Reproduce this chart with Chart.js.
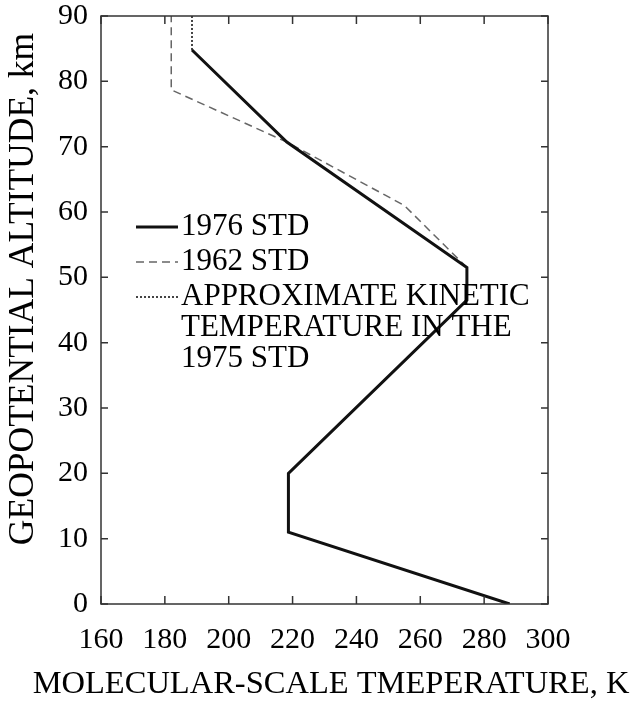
<!DOCTYPE html>
<html>
<head>
  <meta charset="utf-8">
  <title>Standard atmosphere temperature profiles</title>
  <script src="https://cdn.jsdelivr.net/npm/chart.js@4.4.0/dist/chart.umd.min.js"></script>
  <style>
    html, body { margin: 0; padding: 0; background: #fff; }
    #wrap { width: 644px; height: 704px; }
  </style>
</head>
<body>
<div id="wrap"><canvas id="chartCanvas"></canvas></div>
<script>
// values: temperature (K) against geopotential altitude (km)
const std1976Temp = [288, 218.7, 218.7, 274.6, 274.6, 218.2, 188.5];
const std1976Alt  = [0, 11, 20, 46.5, 51.5, 70.7, 84.8];
const std1962Temp = [274.6, 255, 218.2, 182, 182];
const std1962Alt  = [51.5, 61, 70.7, 78.7, 90];
const kineticTemp = [188.5, 188.5];
const kineticAlt  = [84.8, 90];

const seriesLabels = [
  ['1976 STD'],
  ['1962 STD'],
  ['APPROXIMATE KINETIC', 'TEMPERATURE IN THE', '1975 STD']
];
const xTicks = [160, 180, 200, 220, 240, 260, 280, 300];
const yTicks = [0, 10, 20, 30, 40, 50, 60, 70, 80, 90];
const xTitle = 'MOLECULAR-SCALE TMEPERATURE, K';
const yTitle = 'GEOPOTENTIAL ALTITUDE, km';

const serif = "'Liberation Serif', 'DejaVu Serif', serif";

function toPoints(xs, ys) {
  return xs.map((x, i) => ({ x: x, y: ys[i] }));
}

// frame, inward tick marks, axis titles and the in-plot legend
const framePlugin = {
  id: 'frame',
  afterDraw(chart) {
    const ctx = chart.ctx;
    const a = chart.chartArea;
    const xs = chart.scales.x, ys = chart.scales.y;
    ctx.save();
    ctx.strokeStyle = '#333';
    ctx.lineWidth = 1.5;
    ctx.strokeRect(a.left, a.top, a.right - a.left, a.bottom - a.top);
    ctx.beginPath();
    xTicks.forEach(v => {
      const px = xs.getPixelForValue(v);
      ctx.moveTo(px, a.bottom); ctx.lineTo(px, a.bottom - 8);
      ctx.moveTo(px, a.top);    ctx.lineTo(px, a.top + 8);
    });
    yTicks.forEach(v => {
      const py = ys.getPixelForValue(v);
      ctx.moveTo(a.left, py);  ctx.lineTo(a.left + 7, py);
      ctx.moveTo(a.right, py); ctx.lineTo(a.right - 7, py);
    });
    ctx.stroke();

    ctx.fillStyle = '#000';
    ctx.textAlign = 'center';
    ctx.textBaseline = 'middle';
    // x axis title
    ctx.font = '32.5px ' + serif;
    ctx.fillText(xTitle, 331, 684);
    // y axis title
    ctx.font = '35.5px ' + serif;
    ctx.translate(24, 289);
    ctx.rotate(-Math.PI / 2);
    ctx.fillText(yTitle, 0, 0);
    ctx.restore();

    // legend
    ctx.save();
    ctx.font = '31px ' + serif;
    ctx.fillStyle = '#000';
    ctx.textAlign = 'left';
    ctx.textBaseline = 'middle';
    let y = 227;
    chart.data.datasets.forEach(ds => {
      ctx.beginPath();
      ctx.strokeStyle = ds.borderColor;
      ctx.lineWidth = ds.borderWidth;
      ctx.setLineDash(ds.borderDash || []);
      ctx.moveTo(136, y); ctx.lineTo(178, y);
      ctx.stroke();
      ctx.setLineDash([]);
      ds.label.forEach((line, i) => ctx.fillText(line, 181, y + i * 31));
      y += 35;
    });
    ctx.restore();
  }
};

const chart = new Chart(document.getElementById('chartCanvas'), {
  type: 'scatter',
  data: {
    datasets: [
      { label: seriesLabels[0], data: toPoints(std1976Temp, std1976Alt),
        showLine: true, borderColor: '#111', borderWidth: 3, pointRadius: 0 },
      { label: seriesLabels[1], data: toPoints(std1962Temp, std1962Alt),
        showLine: true, borderColor: '#666', borderWidth: 1.5, borderDash: [8, 5], pointRadius: 0 },
      { label: seriesLabels[2], data: toPoints(kineticTemp, kineticAlt),
        showLine: true, borderColor: '#444', borderWidth: 2, borderDash: [2, 2], pointRadius: 0 }
    ]
  },
  options: {
    responsive: true,
    maintainAspectRatio: false,
    animation: false,
    layout: { padding: { top: 16, right: 96, left: 0, bottom: 0 } },
    plugins: {
      legend: { display: false },
      tooltip: { enabled: false }
    },
    scales: {
      x: {
        type: 'linear', min: 160, max: 300,
        afterBuildTicks: s => { s.ticks = xTicks.map(v => ({ value: v })); },
        afterFit: s => { s.height = 100; s.paddingLeft = 0; s.paddingRight = 0; },
        grid: { display: false, drawTicks: false },
        border: { display: false },
        ticks: { color: '#000', padding: 18, maxRotation: 0, font: { family: serif, size: 30 } }
      },
      y: {
        type: 'linear', min: 0, max: 90,
        afterBuildTicks: s => { s.ticks = yTicks.map(v => ({ value: v })); },
        afterFit: s => { s.width = 101; s.paddingTop = 0; s.paddingBottom = 0; },
        grid: { display: false, drawTicks: false },
        border: { display: false },
        ticks: { color: '#000', padding: 13, font: { family: serif, size: 30 } }
      }
    }
  },
  plugins: [framePlugin]
});
</script>
</body>
</html>
